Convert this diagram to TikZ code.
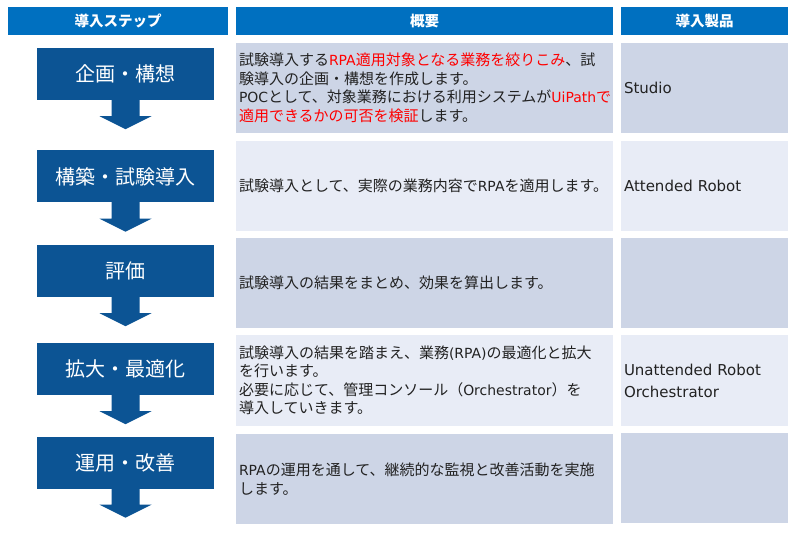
\documentclass[tikz,border=0pt]{standalone}
\usepackage{fontspec}
\setmainfont{Noto Sans CJK JP}
\newfontfamily\latinfont{DejaVu Sans}
\newfontfamily\latinbody{DejaVu Sans}[Scale=0.93]
\newcommand\latn[1]{{\latinbody #1}}
\definecolor{hdr}{RGB}{0,112,192}
\definecolor{stepc}{RGB}{12,84,148}
\definecolor{rowdark}{RGB}{205,213,230}
\definecolor{rowlight}{RGB}{232,236,246}
\definecolor{txt}{RGB}{34,34,34}
\newcommand\stepdown[1]{\fill[stepc] (#1.south) ++(-14,-0.5) -- ++(0,16.5) -- ++(-12,0) -- ++(26,13) -- ++(26,-13) -- ++(-12,0) -- ++(0,-16.5) -- cycle;}
\begin{document}
\begin{tikzpicture}[x=1pt,y=-1pt,
  hdrbox/.style={fill=hdr, text=white, font=\bfseries\fontsize{14.5}{17}\selectfont, minimum height=28pt, inner sep=0pt},
  stepbox/.style={fill=stepc, text=white, font=\fontsize{20}{24}\selectfont, minimum width=177pt, minimum height=52pt, inner sep=0pt},
  descbox/.style={text=txt, font=\fontsize{15}{18.5}\selectfont, align=left, inner xsep=3pt, inner ysep=0pt, minimum height=90pt, text width=371pt, minimum width=377pt},
  prodbox/.style={text=txt, font=\latinfont\fontsize{15}{22}\selectfont, align=left, inner xsep=3pt, inner ysep=0pt, minimum height=90pt, text width=161pt, minimum width=167pt},
  dark/.style={fill=rowdark},
  light/.style={fill=rowlight}]
\useasboundingbox[fill=white] (0,0) rectangle (800,534);
% headers
\node[hdrbox, minimum width=220pt] (h1) at (118,21) {導入ステップ};
\node[hdrbox, minimum width=377pt] (h2) at (424.5,21) {概要};
\node[hdrbox, minimum width=167pt] (h3) at (704.5,21) {導入製品};
% description column
\node[descbox, dark] (d1) at (424.5,88) {試験導入する{\color{red}\latn{RPA}適用対象となる業務を絞りこみ}、試\\験導入の企画・構想を作成します。\\\latn{POC}として、対象業務における利用システムが{\color{red}\latn{UiPath}で}\\{\color{red}適用できるかの可否を検証}します。};
\node[descbox, light] (d2) at (424.5,186) {試験導入として、実際の業務内容で\latn{RPA}を適用します。};
\node[descbox, dark] (d3) at (424.5,283) {試験導入の結果をまとめ、効果を算出します。};
\node[descbox, light] (d4) at (424.5,380.5) {試験導入の結果を踏まえ、業務\latn{(RPA)}の最適化と拡大\\を行います。\\必要に応じて、管理コンソール（\latn{Orchestrator}）を\\導入していきます。};
\node[descbox, dark] (d5) at (424.5,479) {\latn{RPA}の運用を通して、継続的な監視と改善活動を実施\\します。};
% product column
\node[prodbox, dark] (p1) at (704.5,88) {Studio};
\node[prodbox, light] (p2) at (704.5,186) {Attended Robot};
\node[prodbox, dark] (p3) at (704.5,283) {};
\node[prodbox, light] (p4) at (704.5,380.5) {Unattended Robot\\Orchestrator};
\node[prodbox, dark] (p5) at (704.5,477.5) {};
% steps
\node[stepbox] (s1) at (125.5,74) {企画・構想};
\node[stepbox] (s2) at (125.5,176.5) {構築・試験導入};
\node[stepbox] (s3) at (125.5,271) {評価};
\node[stepbox] (s4) at (125.5,369) {拡大・最適化};
\node[stepbox] (s5) at (125.5,462.5) {運用・改善};
\stepdown{s1}
\stepdown{s2}
\stepdown{s3}
\stepdown{s4}
\stepdown{s5}
\end{tikzpicture}
\end{document}
